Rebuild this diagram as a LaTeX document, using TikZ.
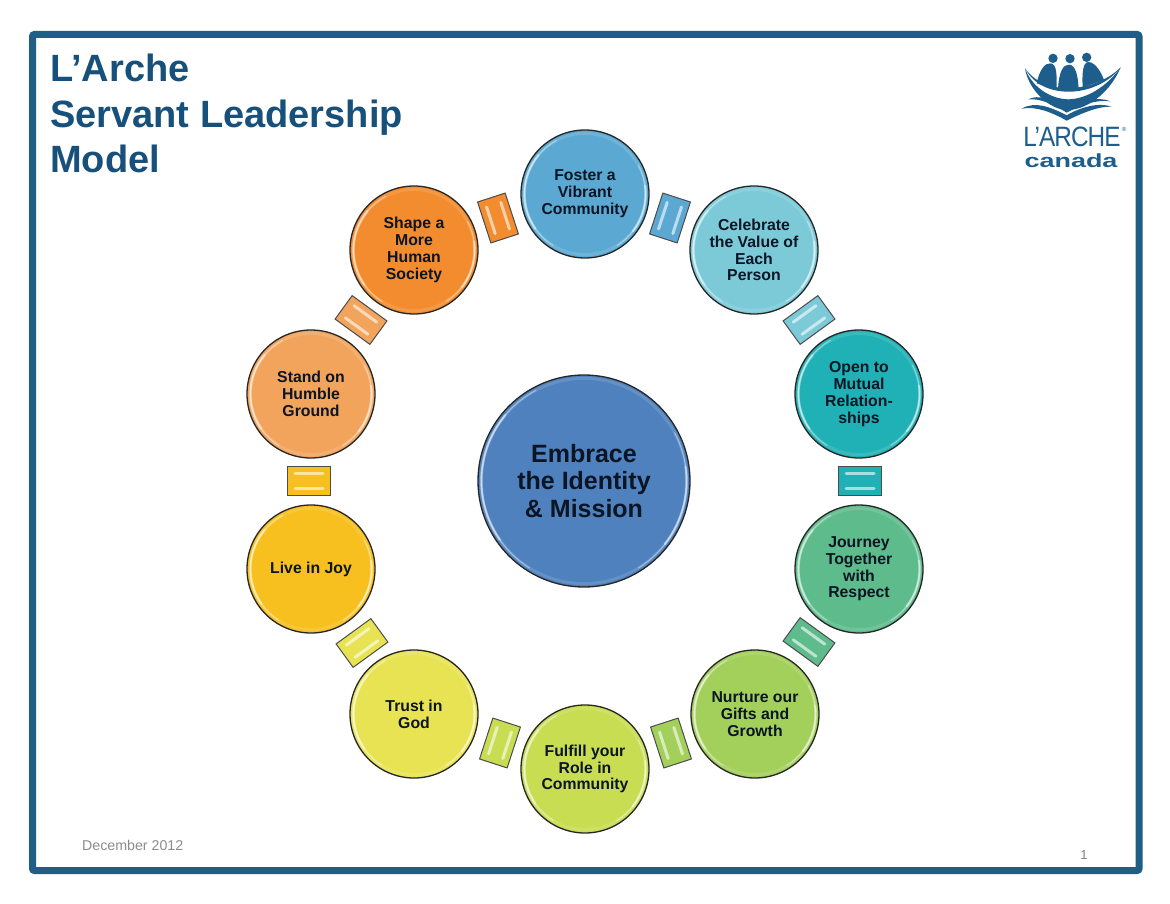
\documentclass[tikz,border=0pt]{standalone}
\usepackage{fontspec}
\setmainfont{Liberation Sans}
\definecolor{framecol}{HTML}{1F5F85}
\definecolor{inkcol}{HTML}{0B1524}
\definecolor{logocol}{HTML}{1D5E8C}
\definecolor{titlecol}{HTML}{17507A}
\definecolor{hubcol}{HTML}{4E81BE}
\newcommand{\orbgloss}[2]{%
  \begin{scope}[shift={(#1.center)}]
    \pgfmathsetmacro{\ro}{#2-3.4}
    \draw[rimhi=.12,line width=3pt] (0,0) circle[radius=\ro];
    \draw[rimhi=.4,line width=1.1pt] (118:\ro) arc[start angle=118,end angle=238,radius=\ro];
    \draw[rimhi=.45,line width=2.2pt] (140:\ro) arc[start angle=140,end angle=215,radius=\ro];
    \draw[rimhi=.4,line width=1.1pt] (-58:\ro) arc[start angle=-58,end angle=28,radius=\ro];
    \draw[rimhi=.45,line width=2.2pt] (-38:\ro) arc[start angle=-38,end angle=8,radius=\ro];
  \end{scope}}
\tikzset{
  rimhi/.style={white,opacity=#1,line cap=round},
  orb/.style n args={3}{circle,inner sep=0pt,minimum size=#1*2pt,fill=#2,draw=black!85,line width=1.3pt,
    align=center,text=inkcol,font=#3},
  smallorb/.style={orb={64}{#1}{\fontsize{15.8}{16.8}\selectfont\bfseries}},
  linkbox/.style={rectangle,inner sep=0pt,minimum width=43pt,minimum height=29pt,draw=black!70,line width=1pt},
  barhi/.style={white,opacity=.6,line width=3pt,line cap=round},
  plaintext/.style={inner sep=0pt,anchor=west},
}
\begin{document}
\begin{tikzpicture}[x=1pt,y=1pt]
\useasboundingbox (0,-904) rectangle (1170,0);
\fill[white] (0,-904) rectangle (1170,0);
\draw[framecol,line width=7pt,rounded corners=2pt] (32.5,-34.5) rectangle (1139,-870.5);
\node[plaintext,font=\fontsize{38}{45.5}\selectfont\bfseries,text=titlecol,align=left,anchor=north west] (title) at (50,-54)
  {L’Arche\\Servant Leadership\\Model};
\node[plaintext,font=\fontsize{14.2}{16}\selectfont,text=black!45] (date) at (82,-845) {December 2012};
\node[inner sep=0pt,font=\fontsize{13}{15}\selectfont,text=black!50] (page) at (1084,-855) {1};

\node[orb={106}{hubcol}{\fontsize{25}{27.3}\selectfont\bfseries}] (hub) at (584,-481) {Embrace\\the Identity\\\& Mission};
\orbgloss{hub}{106}

\definecolor{c1}{HTML}{5BA9D3}\definecolor{c2}{HTML}{7CCAD8}\definecolor{c3}{HTML}{1FB1B5}
\definecolor{c4}{HTML}{5EBB8C}\definecolor{c5}{HTML}{A3CF5B}\definecolor{c6}{HTML}{C8DD52}
\definecolor{c7}{HTML}{E8E352}\definecolor{c8}{HTML}{F7C01F}\definecolor{c9}{HTML}{F2A45C}
\definecolor{c10}{HTML}{F28C2E}

\foreach \n/\x/\y/\r/\c in {1/670/218/72/c1,2/809/320/36/c2,3/860/481/0/c3,4/809/642/-36/c4,5/671/743/-72/c5,
  6/500/743/72/c6,7/362/643/36/c7,8/309/481/0/c8,9/361/320/-36/c9,10/498/218/-72/c10}{
  \node[linkbox,fill=\c,rotate=\r] (link\n) at (\x,-\y) {};
  \begin{scope}[shift={(\x,-\y)},rotate=\r]
    \draw[barhi] (-14,7.5) -- (14,7.5);
    \draw[barhi] (-14,-7.5) -- (14,-7.5);
  \end{scope}
}

\node[smallorb=c1] (n1) at (585,-194) {Foster a\\Vibrant\\Community};
\node[smallorb=c2] (n2) at (754,-250) {Celebrate\\the Value of\\Each\\Person};
\node[smallorb=c3] (n3) at (859,-394) {Open to\\Mutual\\Relation-\\ships};
\node[smallorb=c4] (n4) at (859,-569) {Journey\\Together\\with\\Respect};
\node[smallorb=c5] (n5) at (755,-714) {Nurture our\\Gifts and\\Growth};
\node[smallorb=c6] (n6) at (585,-769) {Fulfill your\\Role in\\Community};
\node[smallorb=c7] (n7) at (414,-714) {Trust in\\God};
\node[smallorb=c8] (n8) at (311,-569) {Live in Joy};
\node[smallorb=c9] (n9) at (311,-394) {Stand on\\Humble\\Ground};
\node[smallorb=c10] (n10) at (414,-250) {Shape a\\More\\Human\\Society};
\foreach \n in {n1,n2,n3,n4,n5,n6,n7,n8,n9,n10}{\orbgloss{\n}{64}}

% logo
\begin{scope}[shift={(1000,-30)},x=1/3*1pt,y=-1/3*1pt]
  \fill[logocol] (159,85) circle[radius=14pt/3];
  \fill[logocol] (210,86) circle[radius=14pt/3];
  \fill[logocol] (260,82) circle[radius=14pt/3];
  \fill[logocol] (110,160) .. controls (118,120) and (135,98) .. (152,100) .. controls (172,102) and (170,140) .. (170,178) -- cycle;
  \fill[logocol] (174,180) .. controls (176,125) and (190,102) .. (208,104) .. controls (228,106) and (234,140) .. (236,178) -- cycle;
  \fill[logocol] (248,172) .. controls (246,130) and (248,96) .. (266,96) .. controls (288,98) and (305,130) .. (312,150) -- cycle;
  \fill[logocol] (75,115) .. controls (85,180) and (150,242) .. (205,240) .. controls (270,238) and (335,178) .. (362,112)
     .. controls (320,170) and (260,207) .. (205,208) .. controls (150,207) and (95,170) .. (75,115) -- cycle;
  \fill[logocol] (75,115) .. controls (110,165) and (170,176) .. (210,174) .. controls (270,173) and (330,145) .. (362,112)
     .. controls (330,155) and (270,184) .. (210,185) .. controls (165,186) and (105,172) .. (75,115) -- cycle;
  \fill[logocol] (85,208) .. controls (115,193) and (150,205) .. (200,235) .. controls (240,212) and (290,198) .. (332,214)
     .. controls (290,208) and (245,224) .. (200,248) .. controls (160,222) and (120,205) .. (85,208) -- cycle;
  \fill[logocol] (65,236) .. controls (105,213) and (150,230) .. (200,256) .. controls (240,232) and (295,216) .. (335,230)
     .. controls (295,228) and (240,252) .. (200,272) .. controls (155,247) and (110,228) .. (65,236) -- cycle;
\end{scope}
\node[inner sep=0pt,font=\fontsize{28}{30}\selectfont,text=logocol] (logotext) at (1072,-137) {\scalebox{.87}[1]{\addfontfeature{LetterSpace=-4}L’ARCHE}};
\node[inner sep=0pt,font=\fontsize{6}{7}\selectfont,text=logocol] (logoreg) at (1124,-129) {®};
\node[inner sep=0pt,font=\fontsize{19}{21}\selectfont\bfseries,text=logocol] (logosub) at (1071,-161) {\scalebox{1.42}[1]{canada}};
\end{tikzpicture}
\end{document}
